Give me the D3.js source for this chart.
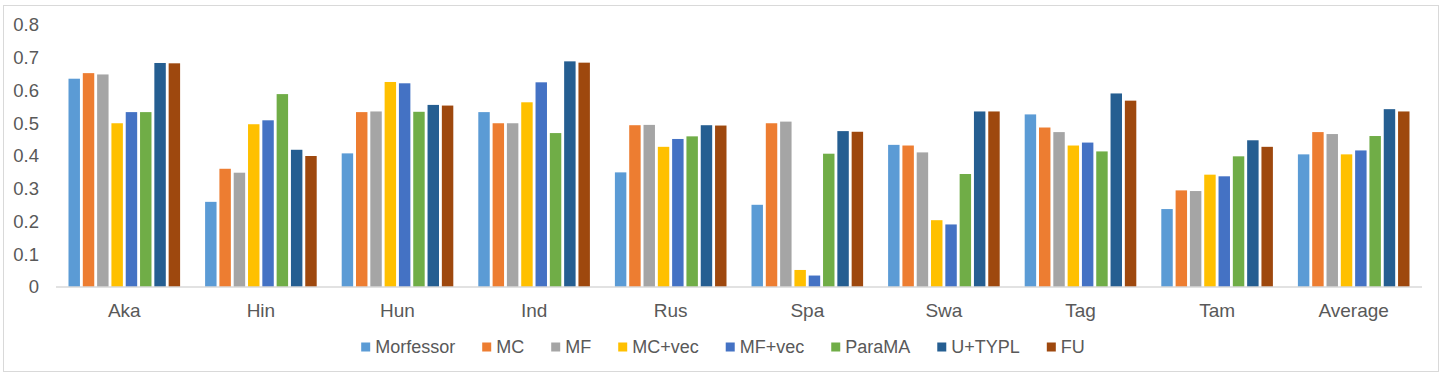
<!DOCTYPE html>
<html>
<head>
<meta charset="utf-8">
<script src="https://cdn.jsdelivr.net/npm/d3@7"></script>
<style>
    body { margin: 0; background: #fff; }
    svg text { font-family: "Liberation Sans", Arial, sans-serif; fill: #595959; }
</style>
</head>
<body>
<svg id="chart"></svg>
<script>
const categories = ["Aka", "Hin", "Hun", "Ind", "Rus", "Spa", "Swa", "Tag", "Tam", "Average"];
const seriesNames = ["Morfessor", "MC", "MF", "MC+vec", "MF+vec", "ParaMA", "U+TYPL", "FU"];

const morfessor = [0.636, 0.260, 0.408, 0.534, 0.350, 0.251, 0.434, 0.527, 0.238, 0.405];
const mc        = [0.653, 0.361, 0.534, 0.500, 0.494, 0.500, 0.432, 0.487, 0.295, 0.473];
const mf        = [0.649, 0.349, 0.536, 0.500, 0.495, 0.505, 0.411, 0.473, 0.293, 0.467];
const mcVec     = [0.500, 0.497, 0.626, 0.564, 0.428, 0.052, 0.204, 0.432, 0.343, 0.405];
const mfVec     = [0.534, 0.509, 0.622, 0.625, 0.452, 0.035, 0.191, 0.441, 0.338, 0.417];
const paraMA    = [0.534, 0.589, 0.535, 0.470, 0.460, 0.407, 0.345, 0.414, 0.399, 0.461];
const uTypl     = [0.684, 0.419, 0.556, 0.689, 0.494, 0.476, 0.536, 0.591, 0.448, 0.543];
const fu        = [0.683, 0.400, 0.554, 0.685, 0.493, 0.474, 0.536, 0.569, 0.428, 0.536];

const yTicks = [0, 0.1, 0.2, 0.3, 0.4, 0.5, 0.6, 0.7, 0.8];

const seriesValues = [morfessor, mc, mf, mcVec, mfVec, paraMA, uTypl, fu];

const colors = {
    "Morfessor": "#5B9BD5",
    "MC": "#ED7D31",
    "MF": "#A5A5A5",
    "MC+vec": "#FFC000",
    "MF+vec": "#4472C4",
    "ParaMA": "#70AD47",
    "U+TYPL": "#255E91",
    "FU": "#9E480E"
};

const W = 1443, H = 377;
const svg = d3.select("#chart").attr("width", W).attr("height", H);

// outer chart border
svg.append("rect")
    .attr("x", 3.5).attr("y", 5.5)
    .attr("width", 1435).attr("height", 366)
    .attr("fill", "#fff")
    .attr("stroke", "#d9d9d9")
    .attr("stroke-width", 1);

const x0 = d3.scaleBand().domain(categories).range([56, 1422]).padding(0);
const x1 = d3.scaleBand().domain(seriesNames)
    .range([12.5, x0.bandwidth() - 12.5])
    .paddingInner(0.2).paddingOuter(0);
const y = d3.scaleLinear().domain([0, 0.8]).range([287, 25]);

// bars
seriesNames.forEach((name, si) => {
    svg.append("g")
        .selectAll("rect")
        .data(seriesValues[si])
        .join("rect")
        .attr("x", (d, i) => x0(categories[i]) + x1(name))
        .attr("y", d => y(d))
        .attr("width", x1.bandwidth())
        .attr("height", d => y(0) - y(d))
        .attr("fill", colors[name]);
});

// x axis line
svg.append("line")
    .attr("x1", 56).attr("x2", 1422)
    .attr("y1", y(0)).attr("y2", y(0))
    .attr("stroke", "#d9d9d9")
    .attr("stroke-width", 1.5);

// y tick labels
svg.append("g")
    .selectAll("text")
    .data(yTicks)
    .join("text")
    .attr("x", 39)
    .attr("y", d => y(d))
    .attr("dy", "0.35em")
    .attr("text-anchor", "end")
    .style("font-size", "18.5px")
    .text(d => d3.format("")(d));

// category labels
svg.append("g")
    .selectAll("text")
    .data(categories)
    .join("text")
    .attr("x", d => x0(d) + x0.bandwidth() / 2)
    .attr("y", 317)
    .attr("text-anchor", "middle")
    .style("font-size", "19px")
    .text(d => d);

// legend, laid out left to right
const legend = svg.append("g");
let lx = 0;
seriesNames.forEach((name) => {
    const item = legend.append("g").attr("transform", `translate(${lx},0)`);
    item.append("rect")
        .attr("x", 0).attr("y", -4.5)
        .attr("width", 9).attr("height", 9)
        .attr("fill", colors[name]);
    const t = item.append("text")
        .attr("x", 14)
        .attr("dy", "0.35em")
        .style("font-size", "18px")
        .text(name);
    lx += 14 + t.node().getComputedTextLength() + 27;
});
const legendWidth = lx - 27;
legend.attr("transform", `translate(${(W - legendWidth) / 2 + 1.5},347)`);
</script>
</body>
</html>
